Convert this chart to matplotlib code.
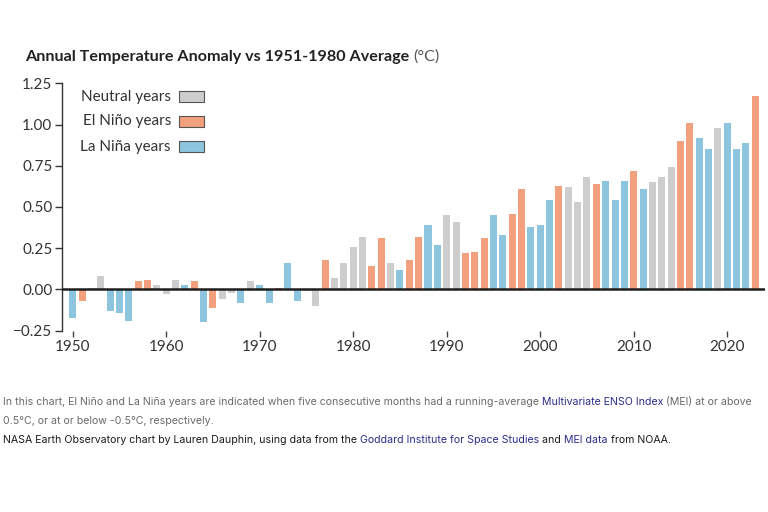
import numpy as np
import matplotlib
matplotlib.use("Agg")
import matplotlib.pyplot as plt
from matplotlib.patches import Rectangle

# Annual anomaly (deg C) vs 1951-1980
years = list(range(1950, 2024))
anomaly = [
    -0.17, -0.07, 0.01, 0.08, -0.13, -0.14, -0.19, 0.05, 0.06, 0.03,   # 1950s
    -0.03, 0.06, 0.03, 0.05, -0.20, -0.11, -0.06, -0.02, -0.08, 0.05,  # 1960s
    0.03, -0.08, 0.01, 0.16, -0.07, -0.01, -0.10, 0.18, 0.07, 0.16,    # 1970s
    0.26, 0.32, 0.14, 0.31, 0.16, 0.12, 0.18, 0.32, 0.39, 0.27,        # 1980s
    0.45, 0.41, 0.22, 0.23, 0.31, 0.45, 0.33, 0.46, 0.61, 0.38,        # 1990s
    0.39, 0.54, 0.63, 0.62, 0.53, 0.68, 0.64, 0.66, 0.54, 0.66,        # 2000s
    0.72, 0.61, 0.65, 0.68, 0.74, 0.90, 1.01, 0.92, 0.85, 0.98,        # 2010s
    1.01, 0.85, 0.89, 1.17,                                            # 2020s
]
# N = neutral, E = El Nino, L = La Nina
phase = list(
    "LENNLLLEEN"
    "NNLELENNLN"
    "LLELLNNENN"
    "NNEENLEELL"
    "NNEEELLEEL"
    "LLENNNELLL"
    "ELNNNEELLN"
    "LLLE"
)

colors = {"N": "#cdcdcd", "E": "#f2a07d", "L": "#8ec5de"}
labels = {"N": "Neutral years", "E": "El Ni\u00f1o years", "L": "La Ni\u00f1a years"}

W, H = 768, 512
fig = plt.figure(figsize=(W / 100, H / 100), dpi=100)
plt.rcParams["font.family"] = ["Lato", "DejaVu Sans"]

ax = fig.add_axes([62 / W, 1 - 330.7 / H, (765 - 62) / W, (330.7 - 83.3) / H])
ax.bar(years, anomaly, width=0.75, color=[colors[p] for p in phase], zorder=2)
ax.axhline(0, color="#1e1e1e", lw=1.8, zorder=3)

ax.set_xlim(1948.86, 2024.04)
ax.set_ylim(-0.25, 1.25)
ax.set_yticks([-0.25, 0, 0.25, 0.5, 0.75, 1.0, 1.25])
ax.set_yticklabels(["\u22120.25", "0.00", "0.25", "0.50", "0.75", "1.00", "1.25"])
ax.set_xticks(range(1950, 2021, 10))

for s in ["top", "right", "bottom"]:
    ax.spines[s].set_visible(False)
ax.spines["left"].set_color("#333333")
ax.spines["left"].set_linewidth(1.0)
ax.tick_params(axis="y", length=5, width=1, color="#333333", labelcolor="#333333",
               labelsize=11, pad=2)
ax.tick_params(axis="x", length=4, width=1, color="#444444", labelcolor="#333333",
               labelsize=11, pad=3)

# legend, drawn by hand: text right-aligned, swatch on the right
for i, key in enumerate(["N", "E", "L"]):
    yc = 1 - (96.5 + 25 * i) / H
    fig.text(171 / W, yc, labels[key], ha="right", va="center", fontsize=11, color="#333333")
    fig.patches.append(Rectangle((179 / W, yc - 5.5 / H), 25 / W, 11 / H,
                                 transform=fig.transFigure, facecolor=colors[key],
                                 edgecolor="#555555", lw=0.8))

fig.canvas.draw()
renderer = fig.canvas.get_renderer()


def write_line(parts, x, y, size, family):
    # parts: list of (text, colour, weight); placed one after another
    for txt, col, weight in parts:
        t = fig.text(x / W, 1 - y / H, txt, ha="left", va="baseline", fontsize=size,
                     color=col, family=family, fontweight=weight)
        bb = t.get_window_extent(renderer)
        x = bb.x1 if txt.strip() else x + bb.width
    return x


# title
write_line([("Annual Temperature Anomaly vs 1951-1980 Average ", "#222222", "bold"),
            ("(\u00b0C)", "#555555", "normal")], 25, 61, 11.6, ["Lato", "DejaVu Sans"])

grey, dark, link = "#6a6a6a", "#1c1c1c", "#2d2d8c"
cap_font = ["Inter", "DejaVu Sans"]
cap_size = 7.6
line1 = [("In this chart, El Ni\u00f1o and La Ni\u00f1a years are indicated when five consecutive "
          "months had a running-average ", grey, "normal"),
         ("Multivariate ENSO Index", link, "normal"),
         (" (MEI) at or above", grey, "normal")]
line2 = [("0.5\u00b0C, or at or below -0.5\u00b0C, respectively.", grey, "normal")]
line3 = [("NASA Earth Observatory chart by Lauren Dauphin, using data from the ", dark, "normal"),
         ("Goddard Institute for Space Studies", link, "normal"),
         (" and ", dark, "normal"),
         ("MEI data", link, "normal"),
         (" from NOAA.", dark, "normal")]

write_line(line1, 3, 405, cap_size, cap_font)
write_line(line2, 3, 424, cap_size, cap_font)
write_line(line3, 3, 443, cap_size, cap_font)

fig.savefig("out.png", dpi=100, facecolor="white")
